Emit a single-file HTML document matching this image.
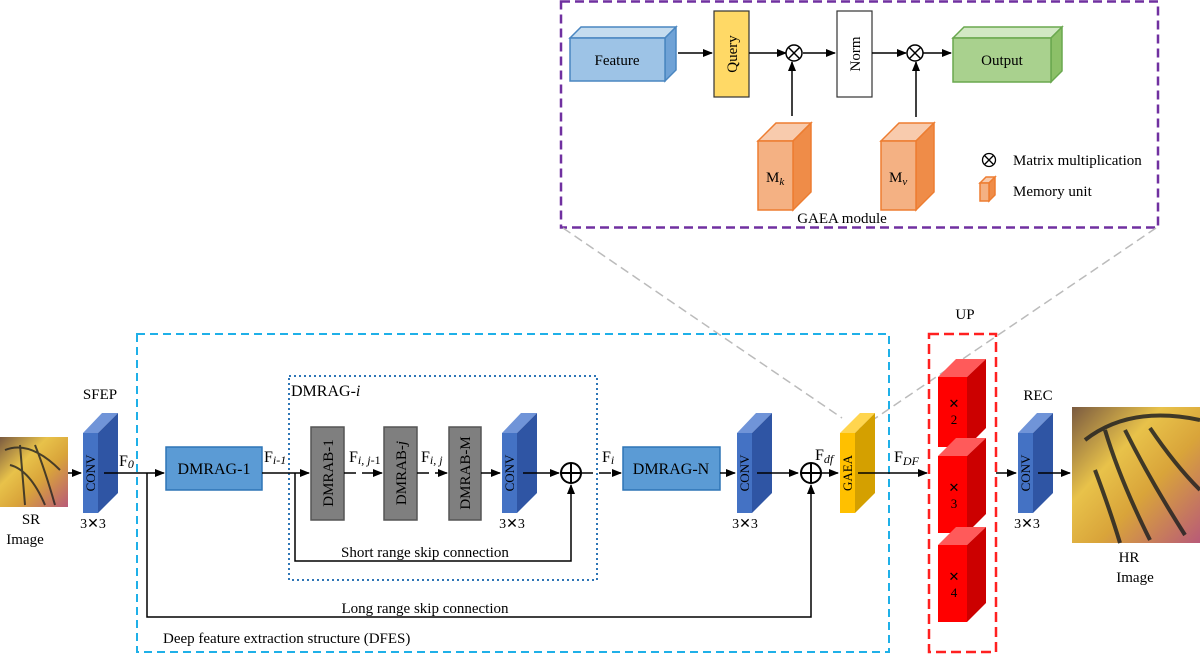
<!DOCTYPE html>
<html><head><meta charset="utf-8"><style>
body{margin:0;background:#fff}
svg{display:block;font-family:"Liberation Serif",serif}
</style></head><body>
<svg width="1200" height="654" viewBox="0 0 1200 654" xmlns="http://www.w3.org/2000/svg">
<defs>
<marker id="a" markerWidth="10" markerHeight="8" refX="9" refY="4" orient="auto" markerUnits="userSpaceOnUse"><path d="M0,0 L10,4 L0,8 z" fill="#000"/></marker>
<linearGradient id="bf" x1="0" y1="0" x2="1" y2="1"><stop offset="0" stop-color="#7a5a40"/><stop offset="0.35" stop-color="#e8c24a"/><stop offset="0.6" stop-color="#d9a43a"/><stop offset="1" stop-color="#b85a78"/></linearGradient>
</defs>
<!-- GAEA module -->
<rect x="561" y="1.5" width="597" height="226" fill="none" stroke="#7030a0" stroke-width="2.5" stroke-dasharray="9,5"/>
<g stroke="#4a86c0" stroke-width="1.5">
<polygon points="570,38 581,27 676,27 665,38" fill="#c5dcef"/>
<polygon points="665,38 676,27 676,70 665,81" fill="#6fa2d6"/>
<rect x="570" y="38" width="95" height="43" fill="#9dc3e6"/>
</g>
<text x="617" y="65" font-size="15" text-anchor="middle">Feature</text>
<rect x="714" y="11" width="35" height="86" fill="#ffd966" stroke="#333" stroke-width="1.2"/>
<text transform="translate(737,54) rotate(-90)" font-size="15" text-anchor="middle">Query</text>
<rect x="837" y="11" width="35" height="86" fill="#fff" stroke="#333" stroke-width="1.2"/>
<text transform="translate(860,54) rotate(-90)" font-size="15" text-anchor="middle">Norm</text>
<g stroke="#6aa84f" stroke-width="1.5">
<polygon points="953,38 964,27 1062,27 1051,38" fill="#d2e8c4"/>
<polygon points="1051,38 1062,27 1062,71 1051,82" fill="#8cc068"/>
<rect x="953" y="38" width="98" height="44" fill="#a9d18e"/>
</g>
<text x="1002" y="65" font-size="15" text-anchor="middle">Output</text>
<g stroke="#000" stroke-width="1.5" fill="none">
<line x1="678" y1="53" x2="712" y2="53" marker-end="url(#a)"/>
<line x1="749" y1="53" x2="786" y2="53" marker-end="url(#a)"/>
<line x1="803" y1="53" x2="835" y2="53" marker-end="url(#a)"/>
<line x1="872" y1="53" x2="906" y2="53" marker-end="url(#a)"/>
<line x1="923" y1="53" x2="951" y2="53" marker-end="url(#a)"/>
<line x1="792" y1="116" x2="792" y2="62" marker-end="url(#a)"/>
<line x1="916" y1="117" x2="916" y2="62" marker-end="url(#a)"/>
<circle cx="794" cy="53" r="8" fill="#fff"/><path d="M788.5,47.5 L799.5,58.5 M799.5,47.5 L788.5,58.5"/>
<circle cx="915" cy="53" r="8" fill="#fff"/><path d="M909.5,47.5 L920.5,58.5 M920.5,47.5 L909.5,58.5"/>
</g>
<g stroke="#ed7d31" stroke-width="1.5">
<polygon points="758,141 776,123 811,123 793,141" fill="#f8cbad"/>
<polygon points="793,141 811,123 811,192 793,210" fill="#ef8c48"/>
<rect x="758" y="141" width="35" height="69" fill="#f4b183"/>
<polygon points="881,141 899,123 934,123 916,141" fill="#f8cbad"/>
<polygon points="916,141 934,123 934,192 916,210" fill="#ef8c48"/>
<rect x="881" y="141" width="35" height="69" fill="#f4b183"/>
<polygon points="980,183 986,177 995,177 989,183" fill="#f8cbad"/>
<polygon points="989,183 995,177 995,195 989,201" fill="#ef8c48"/>
<rect x="980" y="183" width="9" height="18" fill="#f4b183"/>
</g>
<text x="766" y="182" font-size="15">M<tspan font-style="italic" font-size="11" dy="3">k</tspan></text>
<text x="889" y="182" font-size="15">M<tspan font-style="italic" font-size="11" dy="3">v</tspan></text>
<g stroke="#000" stroke-width="1.3" fill="none"><circle cx="989" cy="160" r="6.5"/><path d="M984.5,155.5 L993.5,164.5 M993.5,155.5 L984.5,164.5"/></g>
<text x="1013" y="165" font-size="15">Matrix multiplication</text>
<text x="1013" y="196" font-size="15">Memory unit</text>
<text x="842" y="223" font-size="15" text-anchor="middle">GAEA module</text>
<!-- gray zoom lines -->
<line x1="563" y1="228" x2="842" y2="418" stroke="#bbb" stroke-width="1.5" stroke-dasharray="9,5"/>
<line x1="1156" y1="228" x2="855" y2="432" stroke="#bbb" stroke-width="1.5" stroke-dasharray="9,5"/>
<!-- DFES -->
<rect x="137" y="334" width="752" height="318" fill="none" stroke="#1fb0e8" stroke-width="2" stroke-dasharray="8,5"/>
<text x="163" y="643" font-size="15">Deep feature extraction structure (DFES)</text>
<rect x="289" y="376" width="308" height="204" fill="none" stroke="#2e75b6" stroke-width="2" stroke-dasharray="2,3"/>
<text x="291" y="396" font-size="16">DMRAG-<tspan font-style="italic">i</tspan></text>
<!-- UP -->
<rect x="929" y="334" width="67" height="318" fill="none" stroke="#ff2020" stroke-width="2.5" stroke-dasharray="10,5"/>
<text x="965" y="319" font-size="15" text-anchor="middle">UP</text>
<g>
<polygon points="938,377 956,359 986,359 967,377" fill="#ff5a5a"/><polygon points="967,377 986,359 986,428 967,447" fill="#cc0000"/><rect x="938" y="377" width="29" height="70" fill="#ff0000"/>
<polygon points="938,456 956,438 986,438 967,456" fill="#ff5a5a"/><polygon points="967,456 986,438 986,514 967,533" fill="#cc0000"/><rect x="938" y="456" width="29" height="77" fill="#ff0000"/>
<polygon points="938,545 956,527 986,527 967,545" fill="#ff5a5a"/><polygon points="967,545 986,527 986,603 967,622" fill="#cc0000"/><rect x="938" y="545" width="29" height="77" fill="#ff0000"/>
</g>
<g font-size="13" text-anchor="middle"><text x="954" y="408">✕</text><text x="954" y="424">2</text><text x="954" y="492">✕</text><text x="954" y="508">3</text><text x="954" y="581">✕</text><text x="954" y="597">4</text></g>
<!-- images -->
<rect x="0" y="437" width="68" height="70" fill="url(#bf)"/>
<g stroke="#222" stroke-width="2" fill="none" opacity="0.8">
<path d="M5,450 Q30,440 60,470 M10,465 Q30,470 45,505 M20,445 L25,505 M35,445 Q45,470 55,505"/>
</g>
<rect x="1072" y="407" width="128" height="136" fill="url(#bf)"/>
<g stroke="#222" stroke-width="4" fill="none" opacity="0.85">
<path d="M1085,440 Q1130,405 1200,420 M1105,430 Q1120,480 1150,540 M1125,430 Q1150,480 1185,535 M1150,428 Q1175,465 1200,490 M1095,470 Q1110,510 1120,543"/>
</g>
<text x="31" y="524" font-size="15" text-anchor="middle">SR</text><text x="25" y="544" font-size="15" text-anchor="middle">Image</text>
<text x="1129" y="562" font-size="15" text-anchor="middle">HR</text><text x="1135" y="582" font-size="15" text-anchor="middle">Image</text>
<!-- conv blocks -->
<g id="c">
<polygon points="83,433 102,413 118,413 98,433" fill="#7094d8"/>
<polygon points="98,433 118,413 118,493 98,513" fill="#2f55a4"/>
<rect x="83" y="433" width="15" height="80" fill="#4472c4"/>
</g>
<use href="#c" x="419"/><use href="#c" x="654"/><use href="#c" x="935"/>
<g font-size="13" text-anchor="middle">
<text transform="translate(95,473) rotate(-90)">CONV</text><text transform="translate(514,473) rotate(-90)">CONV</text>
<text transform="translate(749,473) rotate(-90)">CONV</text><text transform="translate(1030,473) rotate(-90)">CONV</text>
</g>
<g font-size="14" text-anchor="middle"><text x="93" y="528">3✕3</text><text x="512" y="528">3✕3</text><text x="745" y="528">3✕3</text><text x="1027" y="528">3✕3</text></g>
<text x="100" y="399" font-size="15" text-anchor="middle">SFEP</text>
<text x="1038" y="400" font-size="15" text-anchor="middle">REC</text>
<!-- GAEA -->
<polygon points="840,433 860,413 875,413 855,433" fill="#ffd54f"/>
<polygon points="855,433 875,413 875,493 855,513" fill="#d4a000"/>
<rect x="840" y="433" width="15" height="80" fill="#ffc000"/>
<text transform="translate(852,473) rotate(-90)" font-size="13" text-anchor="middle">GAEA</text>
<!-- DMRAG boxes -->
<rect x="166" y="447" width="96" height="43" fill="#5b9bd5" stroke="#2e75b6" stroke-width="1.5"/>
<text x="214" y="474" font-size="16" text-anchor="middle">DMRAG-1</text>
<rect x="623" y="447" width="97" height="43" fill="#5b9bd5" stroke="#2e75b6" stroke-width="1.5"/>
<text x="671" y="474" font-size="16" text-anchor="middle">DMRAG-N</text>
<g fill="#7f7f7f" stroke="#555" stroke-width="1.5">
<rect x="311" y="427" width="33" height="93"/><rect x="384" y="427" width="33" height="93"/><rect x="449" y="427" width="32" height="93"/>
</g>
<g font-size="15" text-anchor="middle">
<text transform="translate(333,473) rotate(-90)">DMRAB-1</text>
<text transform="translate(406,473) rotate(-90)">DMRAB-<tspan font-style="italic">j</tspan></text>
<text transform="translate(470,473) rotate(-90)">DMRAB-M</text>
</g>
<!-- connectors -->
<g stroke="#000" stroke-width="1.5" fill="none">
<line x1="68" y1="473" x2="81" y2="473" marker-end="url(#a)"/>
<line x1="104" y1="473" x2="164" y2="473" marker-end="url(#a)"/>
<line x1="262" y1="473" x2="309" y2="473" marker-end="url(#a)"/>
<line x1="344" y1="473" x2="382" y2="473" stroke-dasharray="12,6" marker-end="url(#a)"/>
<line x1="417" y1="473" x2="447" y2="473" stroke-dasharray="12,6" marker-end="url(#a)"/>
<line x1="481" y1="473" x2="500" y2="473" marker-end="url(#a)"/>
<line x1="523" y1="473" x2="559" y2="473" marker-end="url(#a)"/>
<line x1="581" y1="473" x2="621" y2="473" stroke-dasharray="12,6" marker-end="url(#a)"/>
<line x1="720" y1="473" x2="735" y2="473" marker-end="url(#a)"/>
<line x1="757" y1="473" x2="798" y2="473" marker-end="url(#a)"/>
<line x1="820" y1="473" x2="838" y2="473" marker-end="url(#a)"/>
<line x1="858" y1="473" x2="927" y2="473" marker-end="url(#a)"/>
<line x1="996" y1="473" x2="1016" y2="473" marker-end="url(#a)"/>
<line x1="1038" y1="473" x2="1070" y2="473" marker-end="url(#a)"/>
<polyline points="295,473 295,561 571,561 571,485" marker-end="url(#a)"/>
<polyline points="147,473 147,617 811,617 811,485" marker-end="url(#a)"/>
<circle cx="571" cy="473" r="10" fill="#fff" stroke-width="2"/><path d="M561,473 H581 M571,463 V483" stroke-width="2"/>
<circle cx="811" cy="473" r="10" fill="#fff" stroke-width="2"/><path d="M801,473 H821 M811,463 V483" stroke-width="2"/>
</g>
<g font-size="16">
<text x="119" y="466">F<tspan font-style="italic" font-size="12" dy="2">0</tspan></text>
<text x="264" y="462">F<tspan font-style="italic" font-size="12" dy="2">i-1</tspan></text>
<text x="349" y="462">F<tspan font-style="italic" font-size="12" dy="2">i, j</tspan><tspan font-size="12">-1</tspan></text>
<text x="421" y="462">F<tspan font-style="italic" font-size="12" dy="2">i, j</tspan></text>
<text x="602" y="462">F<tspan font-style="italic" font-size="12" dy="2">i</tspan></text>
<text x="815" y="460">F<tspan font-style="italic" font-size="12" dy="3">df</tspan></text>
<text x="894" y="462">F<tspan font-style="italic" font-size="12" dy="3">DF</tspan></text>
</g>
<text x="425" y="557" font-size="15" text-anchor="middle">Short range skip connection</text>
<text x="425" y="613" font-size="15" text-anchor="middle">Long range skip connection</text>
</svg>
</body></html>
